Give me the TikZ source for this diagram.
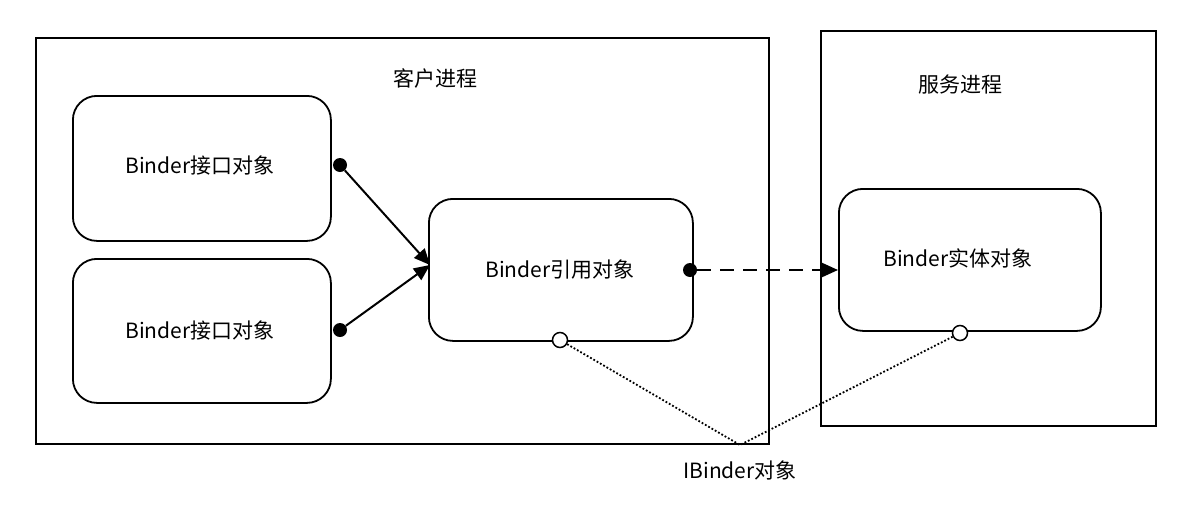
\documentclass[tikz,border=0pt]{standalone}
\usepackage{fontspec}
\newfontfamily\cjk{Noto Sans CJK SC}
\usetikzlibrary{arrows.meta}
\begin{document}
\begin{tikzpicture}[x=1pt,y=-1pt,
  lbl/.style={font=\cjk\fontsize{21}{25}\selectfont},
  proc/.style={draw,line width=1.8pt},
  obj/.style={draw,line width=1.8pt,rounded corners=24pt},
  fdot/.style={circle,fill,inner sep=0pt,minimum size=14pt},
  odot/.style={circle,draw,fill=white,line width=1.5pt,inner sep=0pt,minimum size=15pt},
  arr/.style={line width=2pt,-{Triangle[length=16pt,width=14pt]}}]
\useasboundingbox (0,0) rectangle (1178,504);
\node[proc,minimum width=733pt,minimum height=406pt,anchor=north west] (client) at (35,37) {};
\node[proc,minimum width=335pt,minimum height=395pt,anchor=north west] (server) at (820,30) {};
\node[lbl] (ct) at (435,78) {客户进程};
\node[lbl] (st) at (960,85) {服务进程};
\node[obj,minimum width=258pt,minimum height=145pt,anchor=north west] (i1) at (72,95) {};
\node[lbl] at (200,165) {Binder接口对象};
\node[obj,minimum width=258pt,minimum height=144pt,anchor=north west] (i2) at (72,258) {};
\node[lbl] at (200,330) {Binder接口对象};
\node[obj,minimum width=264pt,minimum height=142pt,anchor=north west] (ref) at (428,198) {};
\node[lbl] at (560,270) {Binder引用对象};
\node[obj,minimum width=262pt,minimum height=142pt,anchor=north west] (ent) at (838,188) {};
\node[lbl] at (958,258) {Binder实体对象};
\node[fdot] (d1) at (340,165) {};
\node[fdot] (d2) at (340,330) {};
\node[fdot] (d3) at (690,270) {};
\node[odot] (o1) at (560,340) {};
\node[odot] (o2) at (960,333) {};
\coordinate (tgt) at (430,265);
\coordinate (meet) at (740,445);
\node[lbl] (ib) at (740,470) {IBinder对象};
\draw[arr] (d1) -- (tgt);
\draw[arr] (d2) -- (tgt);
\draw[arr,dashed,dash pattern=on 14pt off 9pt] (d3) -- (838,270);
\draw[dotted,line width=1.8pt] (o1) -- (meet) -- (o2);
\end{tikzpicture}
\end{document}
